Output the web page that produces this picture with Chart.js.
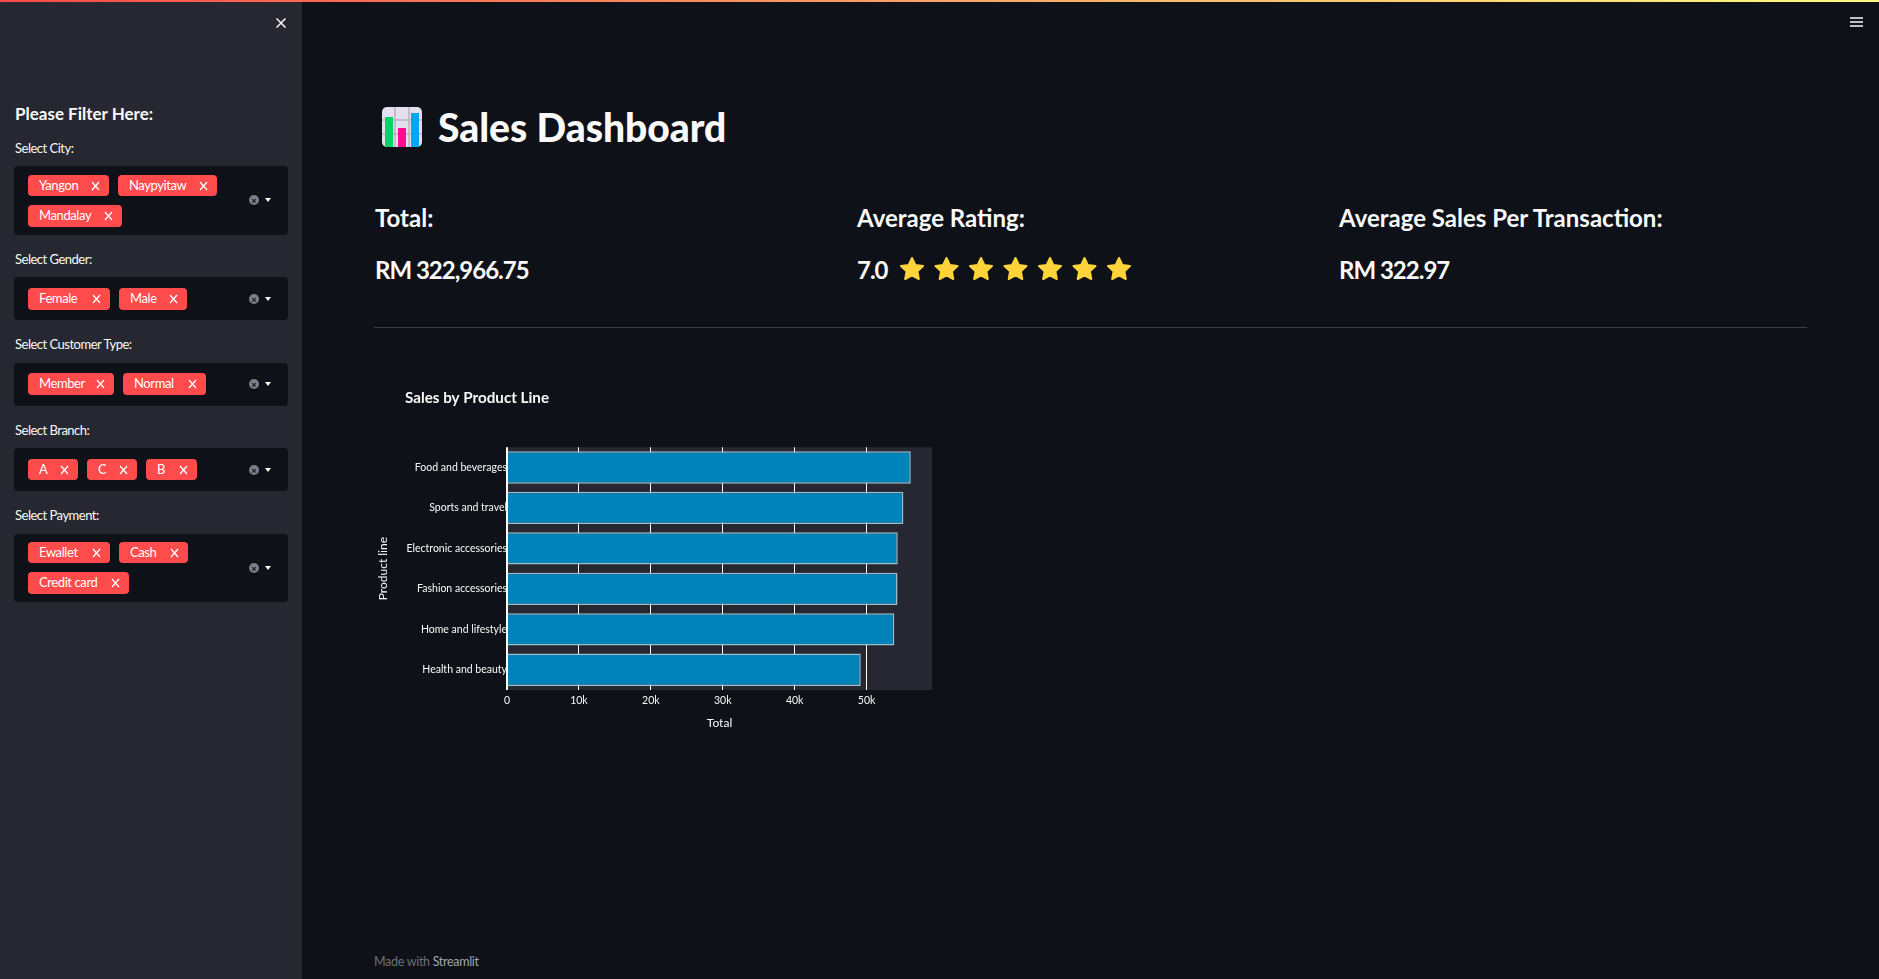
<!DOCTYPE html>
<html lang="en">
<head>
<meta charset="utf-8">
<title>Sales Dashboard</title>
<script src="https://cdn.jsdelivr.net/npm/chart.js@4"></script>
<style>
html,body{margin:0;padding:0;width:1879px;height:979px;overflow:hidden;background:#0e1117;color:#fafafa;font-family:Lato,"Noto Sans",sans-serif}
.a{position:absolute;white-space:nowrap}
#bar{left:0;top:0;width:1879px;height:2px;background:linear-gradient(90deg,#ff4b4b,#fffd80)}
#side{left:0;top:2px;width:302px;height:977px;background:#262730}
.lab{left:15px;font-size:13px;letter-spacing:-0.5px;line-height:18px;transform:translateY(-50%)}
.box{left:14px;width:274px;background:#0e1117;border-radius:4px}
.tag{background:#ff4b4b;border-radius:4px;font-size:13px;letter-spacing:-0.4px;color:#fff}
.tag span{position:absolute;left:11px;top:50%;transform:translateY(-58%)}
.tag svg{position:absolute;right:9px;top:50%;margin-top:-5px}
.clr{left:249px;width:10px;height:10px;border-radius:50%;background:#7d808c;margin-top:-5px}
.clr::after{content:"×";position:absolute;left:0;top:0;width:10px;line-height:10px;font-size:10px;font-weight:700;text-align:center;color:#0e1117}
.car{left:265px;width:0;height:0;border-left:3.5px solid transparent;border-right:3.5px solid transparent;border-top:4px solid #fafafa;margin-top:-2px}
.h3{font-size:24px;font-weight:700;transform:translateY(-50%);line-height:30px}
.num{letter-spacing:-1px}
.star{top:256px}
hr{position:absolute;left:374px;top:327px;width:1433px;margin:0;border:0;height:1px;background:#3a3c46}
#c{position:absolute;left:370px;top:370px}
</style>
</head>
<body>
<div class="a" id="bar"></div>
<div class="a" id="side"></div>
<svg class="a" style="left:276px;top:18px" width="10" height="10" viewBox="0 0 10 10"><path d="M0.5 0.5L9.5 9.5M9.5 0.5L0.5 9.5" stroke="#fafafa" stroke-width="1.5"/></svg>
<div class="a" style="left:15px;top:113px;font-size:17px;font-weight:700;transform:translateY(-50%)">Please Filter Here:</div>

<div class="a lab" style="top:148px">Select City:</div>
<div class="a box" style="top:166px;height:69px"></div>
<div class="a tag" style="left:28px;top:175px;width:81px;height:21px"><span>Yangon</span><svg width="9" height="10" viewBox="0 0 9 10"><path d="M1 1L8 9M8 1L1 9" stroke="#fff" stroke-width="1.3"/></svg></div>
<div class="a tag" style="left:118px;top:175px;width:99px;height:21px"><span>Naypyitaw</span><svg width="9" height="10" viewBox="0 0 9 10"><path d="M1 1L8 9M8 1L1 9" stroke="#fff" stroke-width="1.3"/></svg></div>
<div class="a tag" style="left:28px;top:205px;width:94px;height:22px"><span>Mandalay</span><svg width="9" height="10" viewBox="0 0 9 10"><path d="M1 1L8 9M8 1L1 9" stroke="#fff" stroke-width="1.3"/></svg></div>
<div class="a clr" style="top:200px"></div><div class="a car" style="top:200px"></div>

<div class="a lab" style="top:259px">Select Gender:</div>
<div class="a box" style="top:277px;height:43px"></div>
<div class="a tag" style="left:28px;top:288px;width:82px;height:22px"><span>Female</span><svg width="9" height="10" viewBox="0 0 9 10"><path d="M1 1L8 9M8 1L1 9" stroke="#fff" stroke-width="1.3"/></svg></div>
<div class="a tag" style="left:119px;top:288px;width:68px;height:22px"><span>Male</span><svg width="9" height="10" viewBox="0 0 9 10"><path d="M1 1L8 9M8 1L1 9" stroke="#fff" stroke-width="1.3"/></svg></div>
<div class="a clr" style="top:299px"></div><div class="a car" style="top:299px"></div>

<div class="a lab" style="top:344px">Select Customer Type:</div>
<div class="a box" style="top:363px;height:43px"></div>
<div class="a tag" style="left:28px;top:373px;width:86px;height:22px"><span>Member</span><svg width="9" height="10" viewBox="0 0 9 10"><path d="M1 1L8 9M8 1L1 9" stroke="#fff" stroke-width="1.3"/></svg></div>
<div class="a tag" style="left:123px;top:373px;width:83px;height:22px"><span>Normal</span><svg width="9" height="10" viewBox="0 0 9 10"><path d="M1 1L8 9M8 1L1 9" stroke="#fff" stroke-width="1.3"/></svg></div>
<div class="a clr" style="top:384px"></div><div class="a car" style="top:384px"></div>

<div class="a lab" style="top:430px">Select Branch:</div>
<div class="a box" style="top:448px;height:43px"></div>
<div class="a tag" style="left:28px;top:459px;width:50px;height:21px"><span>A</span><svg width="9" height="10" viewBox="0 0 9 10"><path d="M1 1L8 9M8 1L1 9" stroke="#fff" stroke-width="1.3"/></svg></div>
<div class="a tag" style="left:87px;top:459px;width:50px;height:21px"><span>C</span><svg width="9" height="10" viewBox="0 0 9 10"><path d="M1 1L8 9M8 1L1 9" stroke="#fff" stroke-width="1.3"/></svg></div>
<div class="a tag" style="left:146px;top:459px;width:51px;height:21px"><span>B</span><svg width="9" height="10" viewBox="0 0 9 10"><path d="M1 1L8 9M8 1L1 9" stroke="#fff" stroke-width="1.3"/></svg></div>
<div class="a clr" style="top:470px"></div><div class="a car" style="top:470px"></div>

<div class="a lab" style="top:515px">Select Payment:</div>
<div class="a box" style="top:534px;height:68px"></div>
<div class="a tag" style="left:28px;top:542px;width:82px;height:21px"><span>Ewallet</span><svg width="9" height="10" viewBox="0 0 9 10"><path d="M1 1L8 9M8 1L1 9" stroke="#fff" stroke-width="1.3"/></svg></div>
<div class="a tag" style="left:119px;top:542px;width:69px;height:21px"><span>Cash</span><svg width="9" height="10" viewBox="0 0 9 10"><path d="M1 1L8 9M8 1L1 9" stroke="#fff" stroke-width="1.3"/></svg></div>
<div class="a tag" style="left:28px;top:572px;width:101px;height:22px"><span>Credit card</span><svg width="9" height="10" viewBox="0 0 9 10"><path d="M1 1L8 9M8 1L1 9" stroke="#fff" stroke-width="1.3"/></svg></div>
<div class="a clr" style="top:568px"></div><div class="a car" style="top:568px"></div>

<svg class="a" style="left:1850px;top:17px" width="13" height="10" viewBox="0 0 13 10"><path d="M0 1H13M0 5H13M0 9H13" stroke="#fafafa" stroke-width="1.4"/></svg>

<svg class="a" style="left:382px;top:107px" width="40" height="40" viewBox="0 0 40 40">
<rect width="40" height="40" rx="5" fill="#e6dff0"/>
<path d="M13 0V40M27 0V40M0 13H40M0 27H40" stroke="#b9b3c4" stroke-width="1.5"/>
<path d="M3 10h8v30h-8z" fill="#00d566"/><path d="M16 21h8v19h-8z" fill="#ff0f8f"/><path d="M29 6h8v34h-8z" fill="#00a8f3"/></svg>
<div class="a" style="left:438px;top:127px;font-size:39px;font-weight:900;transform:translateY(-50%)">Sales Dashboard</div>

<div class="a h3" style="left:375px;top:218px">Total:</div>
<div class="a h3 num" style="left:375px;top:270px">RM 322,966.75</div>
<div class="a h3" style="left:857px;top:218px">Average Rating:</div>
<div class="a h3 num" style="left:857px;top:270px">7.0</div>
<div class="a h3" style="left:1339px;top:218px">Average Sales Per Transaction:</div>
<div class="a h3 num" style="left:1339px;top:270px">RM 322.97</div>
<svg class="a star" style="left:899px" width="260" height="26" viewBox="0 0 260 26"><defs><path id="s" d="M13 2l3.3 7 7.7 1-5.6 5.4 1.4 7.6-6.8-3.7-6.8 3.7 1.4-7.6L2 10l7.7-1z" fill="#ffd43b" stroke="#ffd43b" stroke-width="2" stroke-linejoin="round"/></defs>
<use href="#s" x="0"/><use href="#s" x="34.5"/><use href="#s" x="69"/><use href="#s" x="103.5"/><use href="#s" x="138"/><use href="#s" x="172.5"/><use href="#s" x="207"/></svg>
<hr>

<canvas id="c" width="600" height="370"></canvas>

<div class="a" style="left:374px;top:961px;font-size:12.5px;letter-spacing:-0.3px;color:#6d707a;transform:translateY(-50%)">Made with <span style="color:#a3a6ae">Streamlit</span></div>

<script>
const categories = ["Food and beverages","Sports and travel","Electronic accessories","Fashion accessories","Home and lifestyle","Health and beauty"];
const totals = [56144.84,55122.83,54337.53,54305.90,53861.91,49193.74];
const xTicks = [0,10000,20000,30000,40000,50000];
const xMax = 59099.8;
const FONT = 'Lato, "Noto Sans", sans-serif';

const plotBackground = {
  id:'plotBackground',
  beforeDraw(chart){
    const {ctx,chartArea:a} = chart;
    ctx.save(); ctx.fillStyle='#262730';
    ctx.fillRect(a.left,a.top,a.width,a.height); ctx.restore();
  }
};

new Chart(document.getElementById('c'),{
  type:'bar',
  data:{labels:categories,datasets:[{
    label:'Total',data:totals,
    backgroundColor:'#0083b8',borderColor:'#9fbdd0',borderWidth:1.5,
    barPercentage:0.8,categoryPercentage:1
  }]},
  options:{
    indexAxis:'y',responsive:false,animation:false,
    layout:{padding:{left:35,right:38,top:0,bottom:0}},
    plugins:{
      legend:{display:false},tooltip:{enabled:false},
      title:{display:true,text:'Sales by Product Line',align:'start',color:'#fafafa',
        font:{family:FONT,size:15.2,weight:'700'},padding:{top:19,bottom:40}}
    },
    scales:{
      x:{min:0,max:xMax,
        border:{display:false},
        grid:{color:'#ffffff',lineWidth:c=>c.tick&&c.tick.value===0?2:1,drawTicks:false},
        afterBuildTicks:s=>{s.ticks=xTicks.map(value=>({value}));},
        ticks:{autoSkip:false,padding:4,color:'#fafafa',maxRotation:0,
          font:{family:FONT,size:10.5},callback:v=>v===0?'0':(v/1000)+'k'},
        title:{display:true,text:'Total',color:'#fafafa',font:{family:FONT,size:12},padding:{top:0,bottom:10}},
        afterFit:s=>{s.height=50;}
      },
      y:{
        border:{display:false},
        grid:{display:false,drawTicks:false},
        ticks:{padding:0,color:'#fafafa',autoSkip:false,font:{family:FONT,size:10.5}},
        title:{display:true,text:'Product line',color:'#fafafa',font:{family:FONT,size:12},padding:{top:-29,bottom:0}},
        afterFit:s=>{s.width=102;}
      }
    }
  },
  plugins:[plotBackground]
});
</script>
</body>
</html>
